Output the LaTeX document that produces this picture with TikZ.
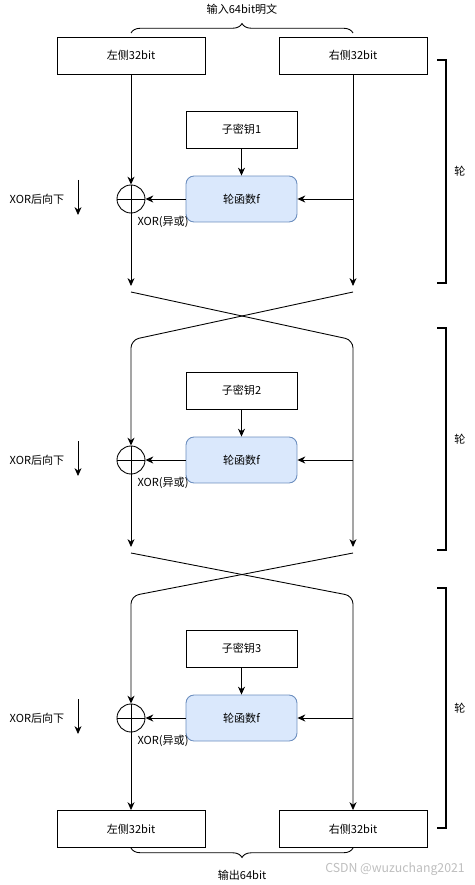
\documentclass[tikz,border=0pt]{standalone}
\usepackage{fontspec}
\setmainfont{Noto Sans CJK SC}
\usetikzlibrary{positioning,arrows.meta,decorations.pathreplacing}

\definecolor{ffill}{HTML}{DAE8FC}
\definecolor{fborder}{HTML}{6C8EBF}
\definecolor{markgray}{HTML}{BEBEBE}

\tikzset{
  halfbox/.style={draw, minimum width=2.96cm, minimum height=0.74cm},
  keybox/.style={draw, minimum width=2.22cm, minimum height=0.74cm},
  fbox/.style={draw=fborder, fill=ffill, rounded corners=0.16cm, minimum width=2.22cm, minimum height=0.92cm},
  xorsym/.style={draw, circle, minimum size=0.56cm, inner sep=0pt},
  bracebar/.style={decorate, decoration={brace, amplitude=0.19cm}},
  roundbar/.style={line width=1.2pt},
}

\begin{document}
\begin{tikzpicture}[x=0.02cm, y=0.02cm, yscale=-1, line width=0.5pt,
    font=\fontsize{6.3}{7.5}\selectfont, >={Stealth[length=4.5pt,width=4pt]}]
    \useasboundingbox (0,0) rectangle (474,885);

    % Define the positions of the wire ends
    \coordinate (braceL) at (131,33);
    \coordinate (braceR) at (353,33);
    \coordinate (endL1) at (131,286);
    \coordinate (endR1) at (353,286);
    \coordinate (crossL1) at (131,292);
    \coordinate (crossR1) at (353,292);
    \coordinate (bendL2) at (131,340);
    \coordinate (bendR2) at (353,340);
    \coordinate (endL2) at (131,547);
    \coordinate (endR2) at (353,547);
    \coordinate (crossL2) at (131,553);
    \coordinate (crossR2) at (353,553);
    \coordinate (bendL3) at (131,596);
    \coordinate (bendR3) at (353,596);
    \coordinate (obraceL) at (131,848);
    \coordinate (obraceR) at (353,848);

    % Draw the input and output halves
    \node (intext) at (242,9) {输入64bit明文};
    \node[halfbox] (inL) at (131,55.5) {左侧32bit};
    \node[halfbox] (inR) at (353,55.5) {右侧32bit};
    \node[halfbox] (outL) at (131,829) {左侧32bit};
    \node[halfbox] (outR) at (353,829) {右侧32bit};
    \node (outtext) at (242,875) {输出64bit};
    \node[text=markgray, font=\fontsize{7}{8}\selectfont] (mark) at (395,869) {CSDN @wuzuchang2021};

    \draw[bracebar] (braceL) -- (braceR);
    \draw[bracebar] (obraceR) -- (obraceL);

    % Draw the three rounds
    \foreach \r/\k/\bt/\bb in {1/111/60/283, 2/372/328/550, 3/630/588/828} {
        \node[keybox] (key\r) at (241.5,\k+18.5) {子密钥\r};
        \node[fbox] (f\r) at (241.5,\k+88) {轮函数f};
        \node[xorsym] (x\r) at (131,\k+88) {};
        \coordinate (tap\r) at (353,\k+88);
        \node (xorlbl\r) at (163,\k+111) {XOR(异或)};
        \node (downlbl\r) at (37,\k+88) {XOR后向下};
        \coordinate (downtop\r) at (78,\k+69);
        \coordinate (downend\r) at (78,\k+104);
        \node (lun\r) at (460,{(\bt+\bb)/2}) {轮};

        \draw[->] (key\r) -- (f\r);
        \draw[->] (tap\r) -- (f\r);
        \draw[->] (f\r) -- (x\r);
        \draw (x\r.north) -- (x\r.south) (x\r.west) -- (x\r.east);
        \draw[->] (downtop\r) -- (downend\r);
        \draw[roundbar] (437,\bt) -- (446,\bt) -- (446,\bb) -- (437,\bb);
    }

    % Draw the wires
    \draw[->] (inL) -- (x1);
    \draw[->] (x1) -- (endL1);
    \draw[->] (inR) -- (endR1);
    \draw[->, rounded corners=0.16cm] (crossR1) -- (bendL2) -- (x2);
    \draw[->, rounded corners=0.16cm] (crossL1) -- (bendR2) -- (endR2);
    \draw[->] (x2) -- (endL2);
    \draw[->, rounded corners=0.16cm] (crossR2) -- (bendL3) -- (x3);
    \draw[->, rounded corners=0.16cm] (crossL2) -- (bendR3) -- (outR);
    \draw[->] (x3) -- (outL);
\end{tikzpicture}
\end{document}
